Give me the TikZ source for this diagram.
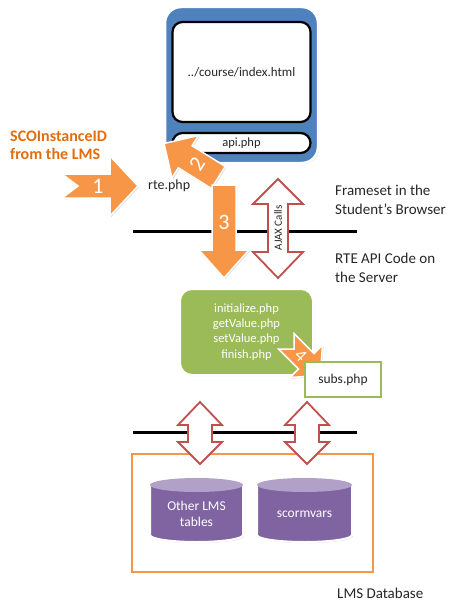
\documentclass[tikz,border=0pt]{standalone}
\usepackage{fontspec}
\setmainfont{Carlito}
\usetikzlibrary{shadows}
\definecolor{frameblue}{HTML}{4F81BD}
\definecolor{steporange}{HTML}{F79646}
\definecolor{labelorange}{HTML}{E46C0A}
\definecolor{ajaxred}{HTML}{C0504D}
\definecolor{codegreen}{HTML}{9BBB59}
\definecolor{dbpurple}{HTML}{8064A2}
\definecolor{dbtop}{HTML}{B1A0C7}
\definecolor{textgray}{HTML}{262626}
\tikzset{
	softshadow/.style={drop shadow={opacity=.25,shadow xshift=1.2pt,shadow yshift=-1.2pt}},
	steparrow/.style={fill=steporange,draw=white,line width=1.5pt,line join=miter,softshadow},
	stepnum/.style={text=white,font=\fontsize{22}{22}\selectfont},
	callarrow/.style={fill=white,draw=ajaxred,line width=1.8pt,line join=miter},
	sidetext/.style={anchor=west,align=left,inner sep=0pt,text=textgray,font=\fontsize{15}{18.5}\selectfont},
	filebox/.style={draw=black,line width=2.2pt,fill=white,text=textgray},
	divider/.style={line width=3pt,black},
}

\begin{document}
\begin{tikzpicture}[x=1pt,y=1pt]
	\useasboundingbox (0,0) rectangle (474,-607);
%%% dividing lines
	\draw[divider] (133,-231) -- (357,-231);
	\draw[divider] (133,-432) -- (357,-432);
%%% frameset in the browser
	\filldraw[fill=frameblue,draw=white,line width=2.5pt,rounded corners=16pt,softshadow] (165,-7) rectangle (318,-163);
	\node[filebox,rounded corners=10pt,minimum width=138pt,minimum height=100pt,font=\fontsize{13}{13}\selectfont] (course) at (241.5,-72) {../course/index.html};
	\node[filebox,rounded corners=10pt,minimum width=138pt,minimum height=20pt,font=\fontsize{12.5}{12.5}\selectfont] (api) at (241.5,-143) {api.php};
%%% step 1
	\node[anchor=west,align=left,inner sep=0pt,text=labelorange,font=\bfseries\fontsize{16}{18}\selectfont] (sco) at (10,-145) {SCOInstanceID\\from the LMS};
	\begin{scope}[shift={(100,-186)}]
		\filldraw[steparrow] (-38,12) -- (10,12) -- (10,30) -- (38,0) -- (10,-30) -- (10,-12) -- (-38,-12) -- (-22,0) -- cycle;
		\node[stepnum] (one) at (-2,0) {1};
	\end{scope}
	\node[anchor=west,inner sep=0pt,text=textgray,font=\fontsize{14}{14}\selectfont] (rte) at (148,-186) {rte.php};
%%% step 2
	\begin{scope}[shift={(192,-161)},rotate=148]
		\filldraw[steparrow] (-31,13) -- (8,13) -- (8,25) -- (33,0) -- (8,-25) -- (8,-13) -- (-31,-13) -- cycle;
		\node[stepnum,rotate=58] (two) at (-6,0) {2};
	\end{scope}
%%% step 3 and the AJAX calls
	\filldraw[steparrow] (212,-185) -- (236,-185) -- (236,-250) -- (249,-250) -- (224,-278) -- (199,-250) -- (212,-250) -- cycle;
	\node[stepnum] (three) at (224,-222) {3};
	\filldraw[callarrow] (278,-179) -- (303,-204) -- (288,-204) -- (288,-252) -- (303,-252) -- (278,-278) -- (253,-252) -- (268,-252) -- (268,-204) -- (253,-204) -- cycle;
	\node[rotate=90,text=textgray,font=\fontsize{11}{11}\selectfont] (ajax) at (278,-228) {AJAX Calls};
%%% labels on the right
	\node[sidetext] (browser) at (335,-200) {Frameset in the\\Student’s Browser};
	\node[sidetext] (server) at (335,-268) {RTE API Code on\\the Server};
	\node[sidetext] (dbname) at (337,-593) {LMS Database};
%%% RTE API code on the server, step 4
	\node[fill=codegreen,draw=white,line width=2pt,rounded corners=12pt,softshadow,minimum width=133pt,minimum height=86pt,text=white,align=center,font=\fontsize{12.5}{15.3}\selectfont] (calls) at (246.5,-332) {initialize.php\\getValue.php\\setValue.php\\finish.php};
	\begin{scope}[shift={(302,-357)},rotate=-45]
		\filldraw[steparrow] (-22,11) -- (6,11) -- (6,23) -- (26,0) -- (6,-23) -- (6,-11) -- (-22,-11) -- (-11,0) -- cycle;
		\node[stepnum,font=\fontsize{18}{18}\selectfont,rotate=-45] (four) at (-2,0) {4};
	\end{scope}
	\node[draw=codegreen,line width=2pt,fill=white,minimum width=76pt,minimum height=35pt,text=textgray,font=\fontsize{13.5}{13.5}\selectfont] (subs) at (343,-379.5) {subs.php};
%%% LMS database
	\node[draw=steporange,line width=2.5pt,minimum width=241pt,minimum height=118pt] (db) at (252.5,-513) {};
	\foreach \x/\w/\name/\txt in {150/93/tables/{Other LMS\\tables},257/95/vars/scormvars}{
		\filldraw[fill=dbpurple,draw=white,line width=2pt,softshadow] (\x,-485) -- (\x,-535) arc[start angle=180,end angle=360,x radius=\w/2,y radius=7] -- (\x+\w,-485) arc[start angle=0,end angle=180,x radius=\w/2,y radius=7] -- cycle;
		\fill[dbtop] (\x+\w/2,-485) ellipse[x radius=\w/2,y radius=7];
		\node[text=white,align=center,font=\fontsize{13.5}{16}\selectfont] (\name) at (\x+\w/2,-514) {\txt};
	}
	\foreach \x in {200,307}{
		\filldraw[callarrow] (\x,-402) -- ++(22,-23) -- ++(-10,0) -- ++(0,-17) -- ++(10,0) -- (\x,-464) -- ++(-22,22) -- ++(10,0) -- ++(0,17) -- ++(-10,0) -- cycle;
	}
\end{tikzpicture}
\end{document}
